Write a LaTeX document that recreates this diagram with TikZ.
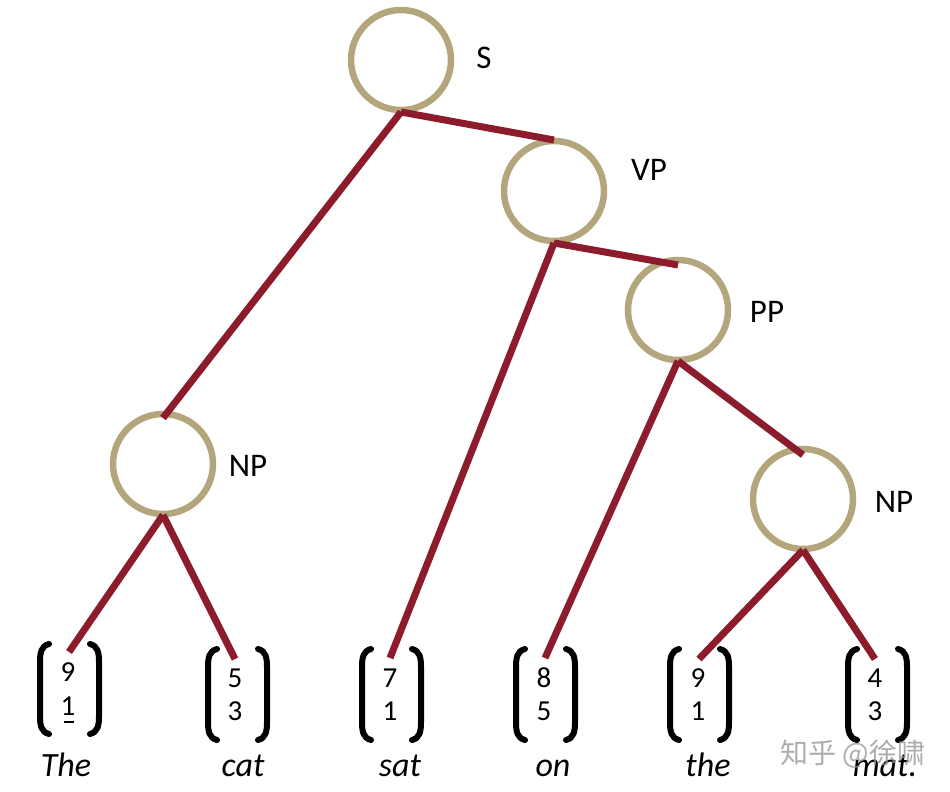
\documentclass[tikz,border=0pt]{standalone}
\usepackage{fontspec}
\setmainfont{Carlito}
\newfontfamily\cjk{Noto Sans CJK SC}
\definecolor{ringc}{HTML}{B3A57C}
\definecolor{linkc}{HTML}{8C1C2B}
\tikzset{
  treenode/.style={circle,draw=ringc,line width=6.5pt,minimum size=100pt,inner sep=0pt},
  lab/.style={inner sep=0pt,font=\fontsize{33}{33}\selectfont},
  digit/.style={inner sep=0pt,font=\fontsize{29}{29}\selectfont},
  word/.style={inner sep=0pt,font=\fontsize{34}{34}\selectfont\itshape},
  link/.style={draw=linkc,line width=7pt},
  brk/.style={draw=black,line width=6pt,line cap=round}
}
\newcommand{\lbrk}[3]{\draw[brk] (#1+11,#2) .. controls (#1+3,#2+2) and (#1+2,#2+9) .. (#1+2,#2+18) -- (#1+2,#3-18) .. controls (#1+2,#3-9) and (#1+3,#3-2) .. (#1+11,#3);}
\newcommand{\rbrk}[3]{\draw[brk] (#1-11,#2) .. controls (#1-3,#2+2) and (#1-2,#2+9) .. (#1-2,#2+18) -- (#1-2,#3-18) .. controls (#1-2,#3-9) and (#1-3,#3-2) .. (#1-11,#3);}
\begin{document}
\begin{tikzpicture}[x=1pt,y=-1pt]
\useasboundingbox (0,0) rectangle (950,792);
% tree nodes
\node[treenode] (s) at (401,60) {};
\node[treenode] (vp) at (554,191) {};
\node[treenode] (pp) at (678,310) {};
\node[treenode] (np1) at (163,464) {};
\node[treenode] (np2) at (803,499) {};
% labels
\node[lab] (ls) at (484,58) {S};
\node[lab] (lvp) at (649,170) {VP};
\node[lab] (lpp) at (767,312) {PP};
\node[lab] (lnp1) at (248,466) {NP};
\node[lab] (lnp2) at (894,502) {NP};
% connector anchors
\coordinate (s-b) at (401,112);
\coordinate (np1-t) at (163,418);
\coordinate (vp-t) at (554,140);
\coordinate (vp-b) at (554,243);
\coordinate (pp-t) at (678,265);
\coordinate (pp-b) at (678,361);
\coordinate (np2-t) at (803,455);
\coordinate (np1-b) at (163,515);
\coordinate (np2-b) at (803,550);
\coordinate (m1) at (69,652);
\coordinate (m2) at (235,659);
\coordinate (m3) at (390,658);
\coordinate (m4) at (545,658);
\coordinate (m5) at (699,659);
\coordinate (m6) at (875,659);
% connectors
\draw[link] (s-b) -- (np1-t);
\draw[link] (s-b) -- (vp-t);
\draw[link] (vp-b) -- (pp-t);
\draw[link] (vp-b) -- (m3);
\draw[link] (pp-b) -- (np2-t);
\draw[link] (pp-b) -- (m4);
\draw[link] (np1-b) -- (m1);
\draw[link] (np1-b) -- (m2);
\draw[link] (np2-b) -- (m5);
\draw[link] (np2-b) -- (m6);
% brackets
\lbrk{38}{644}{734}\rbrk{101}{644}{734}
\lbrk{206}{649}{740}\rbrk{269}{649}{740}
\lbrk{360}{649}{740}\rbrk{423}{649}{740}
\lbrk{514}{649}{740}\rbrk{577}{649}{740}
\lbrk{668}{649}{740}\rbrk{731}{649}{740}
\lbrk{846}{649}{740}\rbrk{909}{649}{740}
% digits
\node[digit] (a1) at (68,672) {9};
\node[digit] (a2) at (68,706) {1};
\draw[line width=1.6pt] (64,722) -- (74,722);
\node[digit] (b1) at (235,678) {5};
\node[digit] (b2) at (235,711) {3};
\node[digit] (c1) at (390,678) {7};
\node[digit] (c2) at (390,711) {1};
\node[digit] (d1) at (544,678) {8};
\node[digit] (d2) at (544,711) {5};
\node[digit] (e1) at (698,678) {9};
\node[digit] (e2) at (698,711) {1};
\node[digit] (f1) at (875,678) {4};
\node[digit] (f2) at (875,711) {3};
% words
\node[word,anchor=base] (w1) at (66,776) {The};
\node[word,anchor=base] (w2) at (243,776) {cat};
\node[word,anchor=base] (w3) at (400,776) {sat};
\node[word,anchor=base] (w4) at (553,776) {on};
\node[word,anchor=base] (w5) at (708,776) {the};
\node[word,anchor=base] (w6) at (885,776) {mat.};
% watermark
\node[inner sep=0pt,text=black!40,opacity=.8,font=\fontsize{28}{28}\selectfont\cjk] (wm) at (853,754) {知乎 @徐啸};
\end{tikzpicture}
\end{document}
